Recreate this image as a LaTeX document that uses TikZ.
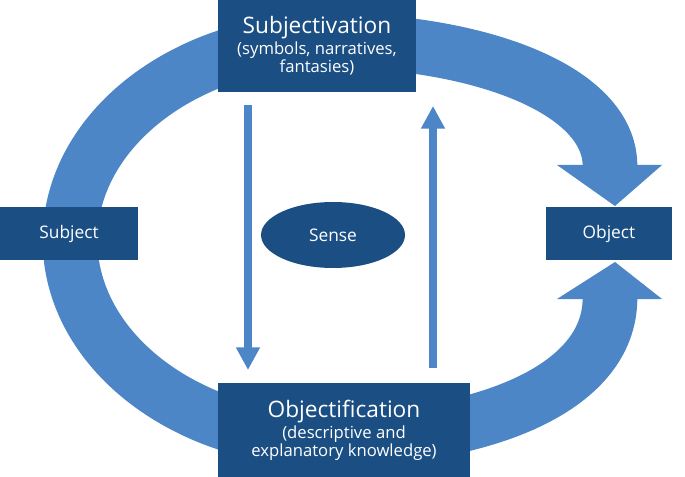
\documentclass[tikz,border=0pt]{standalone}
\usepackage{fontspec}
\setmainfont{Open Sans}
\usetikzlibrary{arrows.meta,shapes.geometric}
\definecolor{dark}{HTML}{1B4F84}
\definecolor{light}{HTML}{4C86C6}
\begin{document}
\begin{tikzpicture}[x=0.75pt,y=-0.75pt,
  box/.style={fill=dark,text=white,inner sep=0pt,align=center},
  ring/.style={draw=light,line width=41pt},
  head/.style={fill=light},
  varrow/.style={draw=light,line width=6pt,-{Triangle[width=17pt,length=17pt]}}]
\useasboundingbox (0,0) rectangle (685,477);
% ring
\draw[ring] (330,440) arc[start angle=90,end angle=270,x radius=260,y radius=200];
\draw[ring] (320,40) .. controls (480,40) and (610,90) .. (610,166);
\draw[ring] (320,440) .. controls (480,440) and (610,390) .. (610,298);
\fill[head] (557,165) -- (662,165) -- (615,206) -- cycle;
\fill[head] (557,299) -- (662,299) -- (615,262) -- cycle;
% boxes
\node[box,minimum width=198*0.75pt,minimum height=92*0.75pt] (top) at (317,46)
  {{\fontsize{17}{19}\selectfont Subjectivation}\\[1pt]{\fontsize{12.5}{15}\selectfont (symbols, narratives,}\\{\fontsize{12.5}{15}\selectfont fantasies)}};
\node[box,minimum width=252*0.75pt,minimum height=94*0.75pt] (bot) at (344,430)
  {{\fontsize{17}{19}\selectfont Objectification}\\[1pt]{\fontsize{12.5}{15}\selectfont (descriptive and}\\{\fontsize{12.5}{15}\selectfont explanatory knowledge)}};
\node[box,minimum width=138*0.75pt,minimum height=53*0.75pt,font=\fontsize{13}{15}\selectfont] (subj) at (69,234) {Subject};
\node[box,minimum width=126*0.75pt,minimum height=53*0.75pt,font=\fontsize{13}{15}\selectfont] (obj) at (609,234) {Object};
\node[box,ellipse,minimum width=144*0.75pt,minimum height=66*0.75pt,font=\fontsize{13}{15}\selectfont] (sense) at (333,235) {Sense};
% vertical arrows
\coordinate (d1) at (248,105); \coordinate (d2) at (248,370);
\coordinate (u1) at (433,368); \coordinate (u2) at (433,106);
\draw[varrow] (d1) -- (d2);
\draw[varrow] (u1) -- (u2);
\end{tikzpicture}
\end{document}
